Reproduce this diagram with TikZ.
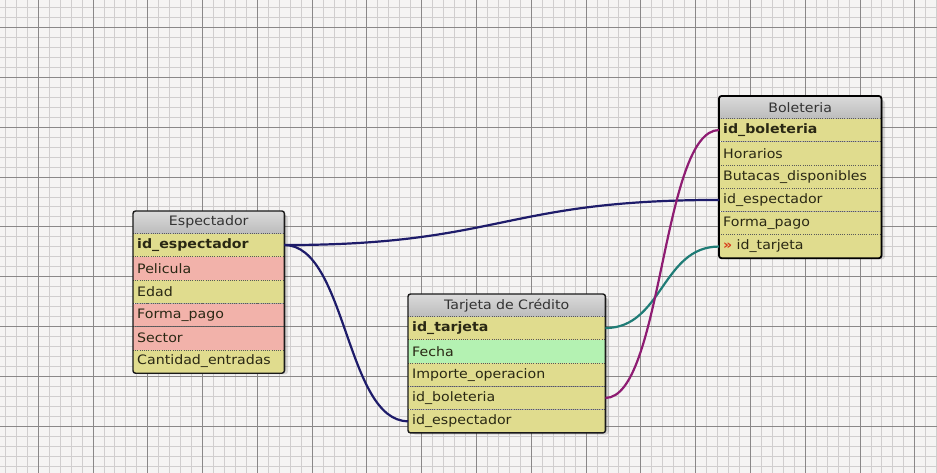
\documentclass[tikz,border=0pt]{standalone}
\usepackage{fontspec}
\setmainfont{DejaVu Sans}[FakeStretch=1.09]
\usetikzlibrary{fit}
\definecolor{bgc}{HTML}{F5F4F3}
\definecolor{gmin}{HTML}{D0CECE}
\definecolor{gmaj}{HTML}{8A8888}
\definecolor{ycol}{HTML}{E0DC8E}
\definecolor{pcol}{HTML}{F2B2AA}
\definecolor{gcol}{HTML}{B4F2B2}
\definecolor{hdtop}{HTML}{DADADA}
\definecolor{hdbot}{HTML}{BCBCBC}
\definecolor{txtc}{HTML}{2A2814}
\definecolor{cnavy}{HTML}{1E1C6A}
\definecolor{cteal}{HTML}{1F7C76}
\definecolor{cmag}{HTML}{8E1C72}
\definecolor{cmark}{HTML}{D83A1A}
\begin{document}
\begin{tikzpicture}[x=1pt,y=-1pt,
  tfont/.style={font=\fontsize{13pt}{15pt}\selectfont},
  cell/.style={tfont, anchor=north west, inner xsep=4pt, inner ysep=0pt,
    minimum height=22.9pt, align=left, text=txtc},
  hdr/.style={tfont, anchor=north west, inner xsep=0pt, inner ysep=0pt,
    minimum height=22pt, align=center, top color=hdtop, bottom color=hdbot, text=black!80},
  ecell/.style={cell, text width=143pt}, ehdr/.style={hdr, text width=151pt},
  tcell/.style={cell, text width=189pt}, thdr/.style={hdr, text width=197pt},
  bcell/.style={cell, text width=154pt}, bhdr/.style={hdr, text width=162pt},
  fillY/.style={fill=ycol}, fillP/.style={fill=pcol}, fillG/.style={fill=gcol},
  keyrow/.style={fill=ycol, font=\fontsize{13pt}{15pt}\selectfont\bfseries},
  sep/.style={draw=black!65, line width=0.8pt, dash pattern=on 1pt off 1.2pt},
  frame/.style={draw=black!90, line width=1.4pt, rounded corners=2.5pt, inner sep=0pt},
  shadA/.style={fill=black, opacity=0.12, rounded corners=3pt},
  shadB/.style={fill=black, opacity=0.18, rounded corners=3pt},
  conn/.style={line width=2.2pt},
  gline/.style={line width=0.8pt}
]
\useasboundingbox (0,0) rectangle (937,473);
\fill[bgc] (0,0) rectangle (937,473);
\foreach \i in {0,...,85}{
  \draw[gline, gmin] ({5.3+10.957*\i},0) -- ({5.3+10.957*\i},473);
}
\foreach \j in {0,...,46}{
  \draw[gline, gmin] (0,{7.3+9.98*\j}) -- (937,{7.3+9.98*\j});
}
\foreach \i in {3,8,...,83}{
  \draw[gline, gmaj] ({5.3+10.957*\i},0) -- ({5.3+10.957*\i},473);
}
\foreach \j in {2,7,...,46}{
  \draw[gline, gmaj] (0,{7.3+9.98*\j}) -- (937,{7.3+9.98*\j});
}

% shadows (drawn directly, behind the tables)
\foreach \x/\y/\xx/\yy in {133/211/284/370.4, 408/294/605/430.5, 719/96/881/255.4}{
  \fill[shadA] (\x+4,\y+4) rectangle (\xx+4,\yy+4);
  \fill[shadB] (\x+2,\y+2) rectangle (\xx+2,\yy+2);
}

% Espectador
\node[ehdr] (eh) at (133,211) {Espectador};
\node[ecell, keyrow] (e1) at (eh.south west) {id\_espectador};
\node[ecell, fillP] (e2) at (e1.south west) {Pelicula};
\node[ecell, fillY] (e3) at (e2.south west) {Edad};
\node[ecell, fillP] (e4) at (e3.south west) {Forma\_pago};
\node[ecell, fillP] (e5) at (e4.south west) {Sector};
\node[ecell, fillY] (e6) at (e5.south west) {Cantidad\_entradas};
\foreach \n in {eh,e1,e2,e3,e4,e5}{\draw[sep] (\n.south west) -- (\n.south east);}
\node[frame, fit=(eh)(e6)] (E) {};

% Tarjeta de Credito
\node[thdr] (th) at (408,294) {Tarjeta de Crédito};
\node[tcell, keyrow] (t1) at (th.south west) {id\_tarjeta};
\node[tcell, fillG] (t2) at (t1.south west) {Fecha};
\node[tcell, fillY] (t3) at (t2.south west) {Importe\_operacion};
\node[tcell, fillY] (t4) at (t3.south west) {id\_boleteria};
\node[tcell, fillY] (t5) at (t4.south west) {id\_espectador};
\foreach \n in {th,t1,t2,t3,t4}{\draw[sep] (\n.south west) -- (\n.south east);}
\node[frame, fit=(th)(t5)] (T) {};

% Boleteria
\node[bhdr] (bh) at (719,96) {Boleteria};
\node[bcell, keyrow] (b1) at (bh.south west) {id\_boleteria};
\node[bcell, fillY] (b2) at (b1.south west) {Horarios};
\node[bcell, fillY] (b3) at (b2.south west) {Butacas\_disponibles};
\node[bcell, fillY] (b4) at (b3.south west) {id\_espectador};
\node[bcell, fillY] (b5) at (b4.south west) {Forma\_pago};
\node[bcell, fillY] (b6) at (b5.south west) {\textcolor{cmark}{\bfseries »}\ id\_tarjeta};
\foreach \n in {bh,b1,b2,b3,b4,b5}{\draw[sep] (\n.south west) -- (\n.south east);}
\node[frame, line width=1.8pt, draw=black, fit=(bh)(b6)] (B) {};

% connectors
\draw[conn, cnavy] (e1.east) .. controls +(217,0) and +(-217,0) .. (b4.west);
\draw[conn, cnavy] (e1.east) .. controls +(62,0) and +(-62,0) .. (t5.west);
\draw[conn, cteal] (t1.east) .. controls +(57,0) and +(-57,0) .. (b6.west);
\draw[conn, cmag] (t4.east) .. controls +(57,0) and +(-57,0) .. (b1.west);
\end{tikzpicture}
\end{document}
